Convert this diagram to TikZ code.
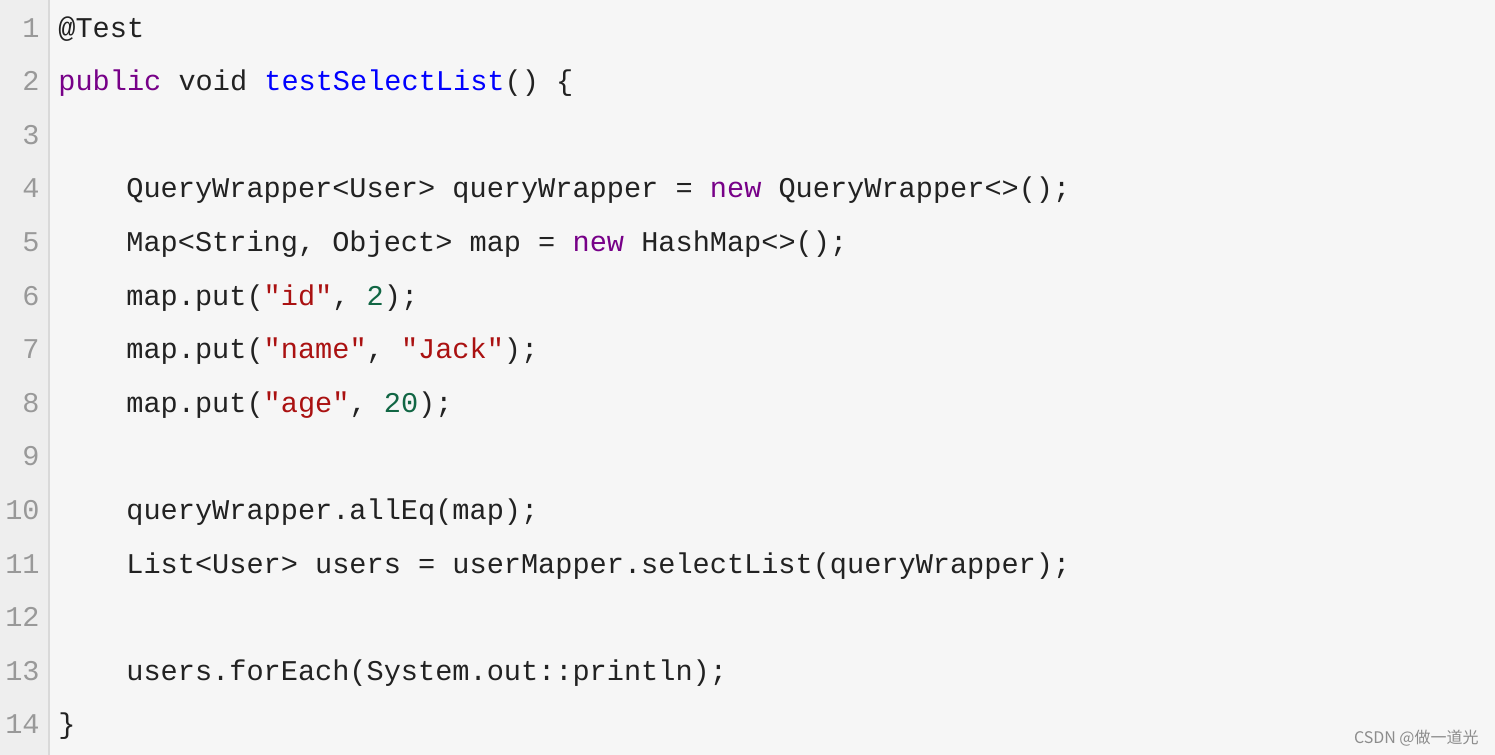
\documentclass[tikz,border=0pt]{standalone}
\usepackage{fontspec}
\setmonofont{Liberation Mono}
\newfontfamily\cjk{Noto Sans CJK SC}
\definecolor{bg}{HTML}{F6F6F6}
\definecolor{gut}{HTML}{EEEEEE}
\definecolor{lnum}{HTML}{999999}
\definecolor{kw}{HTML}{770088}
\definecolor{fn}{HTML}{0000FF}
\definecolor{str}{HTML}{AA1111}
\definecolor{num}{HTML}{116644}
\definecolor{txt}{HTML}{222222}
\newcommand{\K}[1]{\textcolor{kw}{#1}}
\newcommand{\F}[1]{\textcolor{fn}{#1}}
\newcommand{\St}[1]{\textcolor{str}{#1}}
\newcommand{\N}[1]{\textcolor{num}{#1}}
\begin{document}
\begin{tikzpicture}[x=0.5pt,y=-0.5pt,
  code/.style={anchor=base west,inner sep=0,font=\ttfamily\fontsize{14.3}{16}\selectfont,text=txt},
  ln/.style={anchor=base east,inner sep=0,font=\ttfamily\fontsize{14.3}{16}\selectfont,text=lnum}]
\fill[bg] (0,0) rectangle (1495,755);
\useasboundingbox (0,0) rectangle (1495,755);
\fill[gut] (0,0) rectangle (48,755);
\draw[line width=1pt,draw=black!15] (48.5,0) -- (48.5,755);
\foreach \i in {1,...,14}{
  \node[ln] (n\i) at (40,{37+53.6*(\i-1)}) {\i};
}
\def\L#1{37+53.6*(#1-1)}
\node[code] (c1) at (58,{\L{1}}) {@Test};
\node[code] (c2) at (58,{\L{2}}) {\K{public} void \F{testSelectList}() \{};
\node[code] (c4) at (126,{\L{4}}) {QueryWrapper<User> queryWrapper = \K{new} QueryWrapper<>();};
\node[code] (c5) at (126,{\L{5}}) {Map<String, Object> map = \K{new} HashMap<>();};
\node[code] (c6) at (126,{\L{6}}) {map.put(\St{"id"}, \N{2});};
\node[code] (c7) at (126,{\L{7}}) {map.put(\St{"name"}, \St{"Jack"});};
\node[code] (c8) at (126,{\L{8}}) {map.put(\St{"age"}, \N{20});};
\node[code] (c10) at (126,{\L{10}}) {queryWrapper.allEq(map);};
\node[code] (c11) at (126,{\L{11}}) {List<User> users = userMapper.selectList(queryWrapper);};
\node[code] (c13) at (126,{\L{13}}) {users.forEach(System.out::println);};
\node[code] (c14) at (58,{\L{14}}) {\}};
\node[anchor=base east,inner sep=0,text=black!45,font=\cjk\fontsize{8}{9}\selectfont] (wm) at (1479,743) {CSDN @做一道光};
\end{tikzpicture}
\end{document}
